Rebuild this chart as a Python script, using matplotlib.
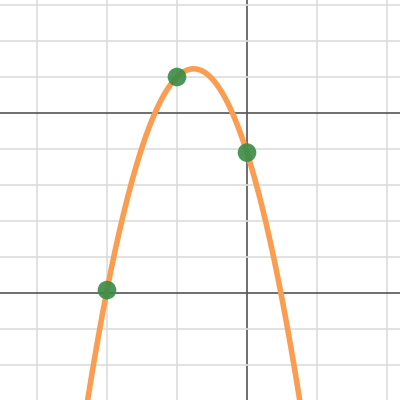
import numpy as np
import matplotlib
matplotlib.use("Agg")
import matplotlib.pyplot as plt

pts_x = [-2, -1, 0]
pts_y = [-4.92, 1.0, -1.1]

coef = np.polyfit(pts_x, pts_y, 2)
xs = np.linspace(-3.6, 2.3, 400)
ys = np.polyval(coef, xs)

fig = plt.figure(figsize=(4, 4), dpi=100)
ax = fig.add_axes([0, 0, 1, 1])
ax.set_xlim(-247/70, 153/70)
ax.set_ylim(-287/36, 113/36)
for v in range(-3, 3):
    ax.axvline(v, color='#555555' if v == 0 else '#dddddd', lw=1.2 if v == 0 else 1.2, zorder=1)
for h in range(-7, 4):
    ax.axhline(h, color='#555555' if h in (0, -5) else '#dddddd', lw=1.2, zorder=1)
ax.plot(xs, ys, color='#fa9d50', lw=4, zorder=2, solid_capstyle='round')
ax.scatter(pts_x, pts_y, s=180, color='#388c46', alpha=0.9, zorder=3, edgecolors='none')
ax.axis('off')
fig.savefig('out.png', dpi=100)
